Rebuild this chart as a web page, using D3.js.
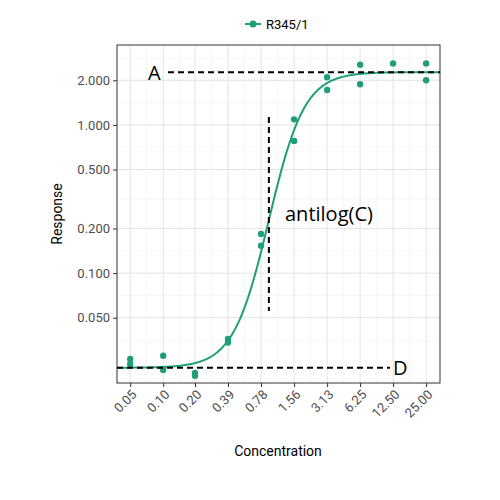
<!DOCTYPE html><html><head><script src="https://cdn.jsdelivr.net/npm/d3@7"></script>
<style>body{margin:0;background:#fff}</style></head><body><svg id="c" width="500" height="500"></svg>
<script>
const concentrations=[0.05,0.1,0.195,0.39,0.78,1.5625,3.125,6.25,12.5,25];
const concLabels=["0.05","0.10","0.20","0.39","0.78","1.56","3.13","6.25","12.50","25.00"];
const obsX=[0.05,0.05,0.1,0.1,0.195,0.195,0.39,0.39,0.78,0.78,1.5625,1.5625,3.125,3.125,6.25,6.25,12.5,25,25];
const obsY=[0.0264,0.0244,0.0277,0.0222,0.0212,0.0203,0.036,0.034,0.184,0.153,1.09,0.78,2.1,1.72,2.55,1.88,2.6,2.6,2.0];
const yTicks=[0.05,0.1,0.2,0.5,1,2];
const yLabels=["0.050","0.100","0.200","0.500","1.000","2.000"];
const A=2.27,D=0.023,C=0.92,B=1.85;
const col="#1f9e78";
const svg=d3.select("#c");
const x=d3.scaleLog().base(2).domain([0.05*Math.pow(2,-0.4),25*Math.pow(2,0.42)]).range([117,440]);
const y=d3.scaleLog().domain([0.01815,3.46]).range([383,45]);
const g=svg.append("g");
// minor grid
for(let i=0;i<concentrations.length-1;i++){const m=Math.sqrt(concentrations[i]*concentrations[i+1]);g.append("line").attr("x1",x(m)).attr("x2",x(m)).attr("y1",45).attr("y2",383).attr("stroke","#f0f0f0").attr("stroke-width",0.6);}
const ym=[0.035,0.0707,0.1414,0.316,0.707,1.414,2.83];
ym.forEach(v=>g.append("line").attr("x1",117).attr("x2",440).attr("y1",y(v)).attr("y2",y(v)).attr("stroke","#f0f0f0").attr("stroke-width",0.6));
concentrations.forEach(v=>g.append("line").attr("x1",x(v)).attr("x2",x(v)).attr("y1",45).attr("y2",383).attr("stroke","#e3e3e3").attr("stroke-width",1));
yTicks.forEach(v=>g.append("line").attr("x1",117).attr("x2",440).attr("y1",y(v)).attr("y2",y(v)).attr("stroke","#e3e3e3").attr("stroke-width",1));
// axes
const ax=svg.append("g").attr("transform","translate(0,383)").call(d3.axisBottom(x).tickValues(concentrations).tickFormat((d,i)=>concLabels[i]).tickSize(4));
ax.select(".domain").remove();
ax.selectAll("line").attr("stroke","#333");
ax.selectAll("text").attr("font-family","Roboto, sans-serif").attr("font-size",13).attr("fill","#4d4d4d")
 .attr("text-anchor","end").attr("transform","rotate(-45)").attr("dx","-0.3em").attr("dy","0.5em");
const ay=svg.append("g").attr("transform","translate(117,0)").call(d3.axisLeft(y).tickValues(yTicks).tickFormat((d,i)=>yLabels[i]).tickSize(4));
ay.select(".domain").remove();
ay.selectAll("line").attr("stroke","#333");
ay.selectAll("text").attr("font-family","Roboto, sans-serif").attr("font-size",13).attr("fill","#4d4d4d");
svg.append("rect").attr("x",117).attr("y",45).attr("width",323).attr("height",338).attr("fill","none").attr("stroke","#333").attr("stroke-width",1);
// curve
const f=c=>Math.pow(10,Math.log10(D)+(Math.log10(A)-Math.log10(D))/(1+Math.exp(-B*Math.log2(c/C))));
const cs=d3.range(0,201).map(i=>0.05*Math.pow(2,-0.4+i*(9.8/200)));
svg.append("path").datum(cs).attr("d",d3.line().x(d=>x(d)).y(d=>y(f(d)))).attr("fill","none").attr("stroke",col).attr("stroke-width",2);
svg.selectAll(".pt").data(obsX).enter().append("circle").attr("cx",d=>x(d)).attr("cy",(d,i)=>y(obsY[i])).attr("r",3.2).attr("fill",col);
// reference lines
const dl=(x1,y1,x2,y2)=>svg.append("line").attr("x1",x1).attr("y1",y1).attr("x2",x2).attr("y2",y2).attr("stroke","#000").attr("stroke-width",2).attr("stroke-dasharray","6,4");
dl(168,y(A),440,y(A));dl(117,y(D),390,y(D));dl(x(C),117,x(C),311);
const lab=(t,xx,yy)=>svg.append("text").attr("x",xx).attr("y",yy).attr("font-family","Open Sans, sans-serif").attr("font-size",20).attr("dominant-baseline","central").text(t);
lab("A",148,y(A));lab("D",393,y(D));lab("antilog(C)",285,213);
// labels
svg.append("text").attr("x",278).attr("y",456).attr("text-anchor","middle").attr("font-family","Roboto, sans-serif").attr("font-size",14).text("Concentration");
svg.append("text").attr("transform","translate(62,214) rotate(-90)").attr("text-anchor","middle").attr("font-family","Roboto, sans-serif").attr("font-size",14).text("Response");
// legend
svg.append("line").attr("x1",245).attr("x2",261).attr("y1",24).attr("y2",24).attr("stroke",col).attr("stroke-width",2);
svg.append("circle").attr("cx",253).attr("cy",24).attr("r",3.5).attr("fill",col);
svg.append("text").attr("x",266).attr("y",24).attr("dominant-baseline","central").attr("font-family","Roboto, sans-serif").attr("font-size",13).text("R345/1");
</script></body></html>
